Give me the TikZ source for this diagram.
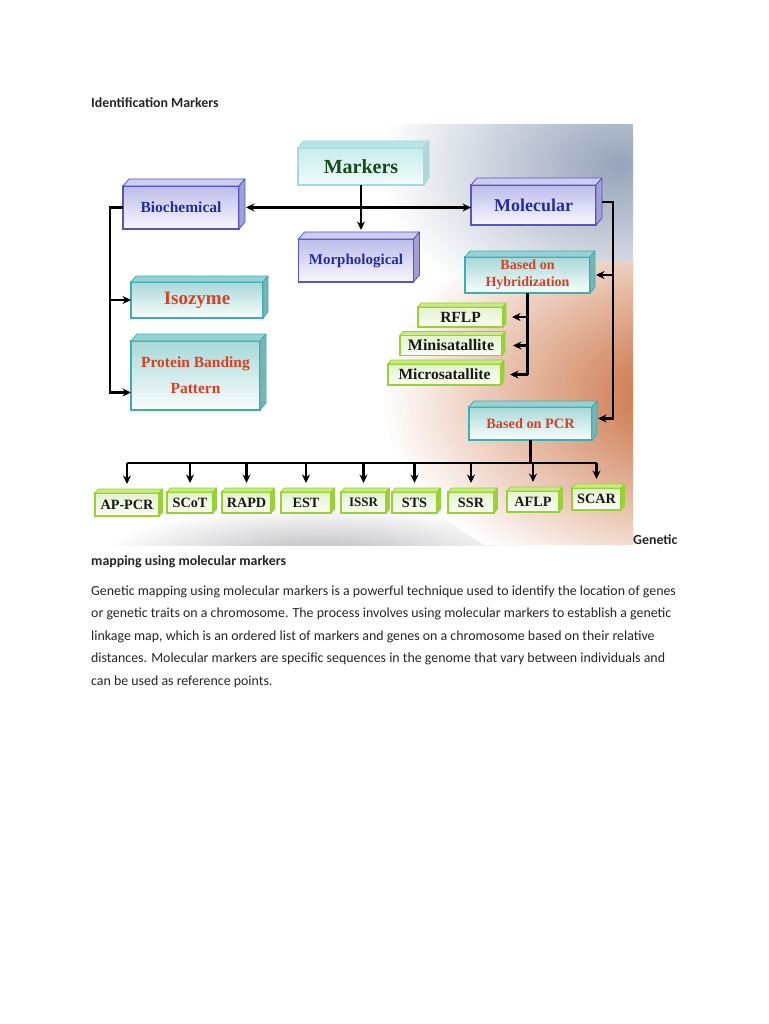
\documentclass[tikz,border=0pt]{standalone}
\usepackage{fontspec}
\setmainfont{Carlito}
\newfontfamily\tnr{Liberation Serif}
\usetikzlibrary{arrows.meta,calc}
\definecolor{purpB}{RGB}{85,85,195}
\definecolor{purpT}{RGB}{188,188,234}
\definecolor{purpBot}{RGB}{248,248,255}
\definecolor{purpTop}{RGB}{205,205,240}
\definecolor{purpSide}{RGB}{160,160,215}
\definecolor{purpText}{RGB}{35,45,160}
\definecolor{cyB}{RGB}{60,175,178}
\definecolor{cyT}{RGB}{168,216,216}
\definecolor{cyBot}{RGB}{250,253,253}
\definecolor{cyTop}{RGB}{150,210,210}
\definecolor{cySide}{RGB}{120,180,182}
\definecolor{cyText}{RGB}{215,65,35}
\definecolor{mkB}{RGB}{165,218,218}
\definecolor{mkT}{RGB}{200,236,236}
\definecolor{mkBot}{RGB}{242,251,251}
\definecolor{mkTop}{RGB}{185,228,228}
\definecolor{mkSide}{RGB}{175,215,215}
\definecolor{mkText}{RGB}{20,75,25}
\definecolor{grB}{RGB}{150,210,50}
\definecolor{grT}{RGB}{228,243,205}
\definecolor{grBot}{RGB}{250,253,245}
\definecolor{grTop}{RGB}{200,235,130}
\definecolor{grSide}{RGB}{155,208,60}
\definecolor{skin}{RGB}{198,100,50}
\definecolor{headblue}{RGB}{150,163,186}
\definecolor{bandgray}{RGB}{185,185,190}
\tikzset{
  box/.style={draw, line width=1.1pt, inner sep=0pt, outer sep=0pt, align=center},
  fs/.style={font=\tnr\bfseries\fontsize{#1}{17}\selectfont},
  purplebox/.style={box, draw=purpB, top color=purpT, bottom color=purpBot, text=purpText},
  cyanbox/.style={box, draw=cyB, top color=cyT, bottom color=cyBot, text=cyText},
  markbox/.style={box, draw=mkB, top color=mkT, bottom color=mkBot, text=mkText},
  greenbox/.style={box, draw=grB, top color=grT, bottom color=grBot, text=black!90},
  conn/.style={line width=2.2pt, draw=black},
  arr/.style={conn, -{Stealth[length=8.5pt,width=8pt]}},
  darr/.style={conn, {Stealth[length=8.5pt,width=8pt]}-{Stealth[length=8.5pt,width=8pt]}},
  body/.style={anchor=base west, inner sep=0pt, font=\fontsize{13.9}{16}\selectfont, text=black!85},
  bodyb/.style={body, font=\bfseries\fontsize{13.9}{16}\selectfont}
}
% #1 node, #2 dx, #3 dy, #4 top fill, #5 side fill, #6 border
\newcommand\cubefaces[6]{%
  \filldraw[draw=#6, fill=#4, line width=0.8pt, line join=round]
    (#1.north west) -- ++(#2,#3) -- ($(#1.north east)+(#2,#3)$) -- (#1.north east) -- cycle;
  \filldraw[draw=#6, fill=#5, line width=0.8pt, line join=round]
    (#1.north east) -- ++(#2,#3) -- ($(#1.south east)+(#2,#3)$) -- (#1.south east) -- cycle;
}
\begin{document}
\begin{tikzpicture}[x=1pt,y=-1pt]
\useasboundingbox (0,0) rectangle (768,1024);
\fill[white] (0,0) rectangle (768,1024);
% background picture
\begin{scope}
  \clip (88,125) rectangle (633,545);
  \shade[inner color=headblue, outer color=white] (618,165) ellipse [x radius=240, y radius=165];
  \shade[inner color=bandgray, outer color=white] (320,556) ellipse [x radius=220, y radius=50];
  \begin{scope}
    \clip (88,360) .. controls (380,300) and (470,270) .. (560,262) -- (633,262) -- (633,545) -- (88,545) -- cycle;
    \shade[inner color=skin, outer color=white] (690,395) ellipse [x radius=310, y radius=200];
  \end{scope}
\end{scope}

% main boxes
\node[markbox, fs=20, minimum width=126pt, minimum height=37pt] (markers) at (361,166.5) {Markers};
\cubefaces{markers}{5}{-7}{mkTop}{mkSide}{mkB}
\node[purplebox, fs=15.5, minimum width=116pt, minimum height=43pt] (bio) at (181,207.5) {Biochemical};
\cubefaces{bio}{6}{-7}{purpTop}{purpSide}{purpB}
\node[purplebox, fs=18, minimum width=125pt, minimum height=40pt] (mol) at (533.5,205) {Molecular};
\cubefaces{mol}{6}{-7}{purpTop}{purpSide}{purpB}
\node[purplebox, fs=15, minimum width=115pt, minimum height=43pt] (morph) at (356,260.5) {Morphological};
\cubefaces{morph}{6}{-7}{purpTop}{purpSide}{purpB}
\node[cyanbox, fs=19, minimum width=132pt, minimum height=36pt] (iso) at (197,300) {Isozyme};
\cubefaces{iso}{5}{-6}{cyTop}{cySide}{cyB}
\node[cyanbox, fs=15.5, minimum width=129pt, minimum height=69pt] (prot) at (195.5,375.5) {Protein Banding\\[9pt]Pattern};
\cubefaces{prot}{6}{-7}{cyTop}{cySide}{cyB}
\node[cyanbox, fs=14, minimum width=125pt, minimum height=36pt] (hyb) at (527.5,275) {Based on\\Hybridization};
\cubefaces{hyb}{5}{-6}{cyTop}{cySide}{cyB}
\node[cyanbox, fs=14.3, minimum width=123pt, minimum height=33pt] (pcr) at (530.5,423.5) {Based on PCR};
\cubefaces{pcr}{5}{-6}{cyTop}{cySide}{cyB}
\node[greenbox, fs=15.5, minimum width=85pt, minimum height=20pt] (rflp) at (460.5,317) {RFLP};
\cubefaces{rflp}{3}{-4}{grTop}{grSide}{grB}
\node[greenbox, fs=16, minimum width=102pt, minimum height=20pt] (mini) at (451,345.5) {Minisatallite};
\cubefaces{mini}{3}{-4}{grTop}{grSide}{grB}
\node[greenbox, fs=15.5, minimum width=113pt, minimum height=21pt] (micro) at (444.5,374.5) {Microsatallite};
\cubefaces{micro}{3}{-4}{grTop}{grSide}{grB}

% bottom row
\node[greenbox, fs=14.2, minimum width=64pt, minimum height=23pt] (b1) at (127,504.5) {AP-PCR};
\node[greenbox, fs=14.2, minimum width=46pt, minimum height=21pt] (b2) at (190,502.5) {SCoT};
\node[greenbox, fs=14.2, minimum width=49pt, minimum height=21pt] (b3) at (246.5,502.5) {RAPD};
\node[greenbox, fs=14.2, minimum width=50pt, minimum height=21pt] (b4) at (306,502.5) {EST};
\node[greenbox, fs=13, minimum width=45pt, minimum height=21pt] (b5) at (363.5,502.5) {ISSR};
\node[greenbox, fs=14.2, minimum width=45pt, minimum height=21pt] (b6) at (414.5,502.5) {STS};
\node[greenbox, fs=14.2, minimum width=46pt, minimum height=21pt] (b7) at (471,502.5) {SSR};
\node[greenbox, fs=14.2, minimum width=52pt, minimum height=21pt] (b8) at (533,501.5) {AFLP};
\node[greenbox, fs=14.2, minimum width=49pt, minimum height=22pt] (b9) at (596.5,499) {SCAR};
\foreach \b in {b1,b2,b3,b4,b5,b6,b7,b8,b9}{\cubefaces{\b}{3.5}{-4}{grTop}{grSide}{grB}}

% connectors
\draw[darr] ([xshift=7pt]bio.east) -- (bio.east -| mol.west);
\draw[arr] (markers.south) -- ([yshift=9pt]markers.south |- morph.north);
\coordinate (lx) at ([xshift=-21pt,yshift=-17pt]prot.west);
\draw[arr] (bio.west) -| (lx) -- ([yshift=-17pt]prot.west);
\draw[arr] (lx |- iso.west) -- (iso.west);
\coordinate (rx) at ([xshift=21pt,yshift=5pt]pcr.east);
\draw[arr] ([xshift=6pt,yshift=3pt]mol.east) -| (rx) -- ([xshift=6pt,yshift=5pt]pcr.east);
\draw[arr] (rx |- hyb.east) -- ([xshift=6pt]hyb.east);
\draw[conn] (hyb.south) -- (hyb.south |- micro.east);
\draw[arr] (hyb.south |- rflp.east) -- ([xshift=9pt]rflp.east);
\draw[arr] (hyb.south |- mini.east) -- ([xshift=11pt]mini.east);
\draw[arr] (hyb.south |- micro.east) -- ([xshift=9pt]micro.east);
\coordinate (hl) at ($(pcr.south)+(0,23)$);
\draw[conn] (pcr.south) -- (pcr.south |- hl);
\draw[conn] (b1.north |- hl) -- (b9.north |- hl);
\foreach \b in {b1,b2,b3,b4,b5,b6,b7,b8,b9}{\draw[arr] (\b.north |- hl) -- ([yshift=9pt]\b.north);}

% page text
\node[bodyb] (t0) at (91,108) {Identification Markers};
\node[bodyb] (t1) at (633,544) {Genetic};
\node[bodyb] (t2) at (91,565) {mapping using molecular markers};
\node[body] (p1) at (91,595) {Genetic mapping using molecular markers is a powerful technique used to identify the location of genes};
\node[body] (p2) at (91,617.5) {or genetic traits on a chromosome. The process involves using molecular markers to establish a genetic};
\node[body] (p3) at (91,640) {linkage map, which is an ordered list of markers and genes on a chromosome based on their relative};
\node[body] (p4) at (91,662.5) {distances. Molecular markers are specific sequences in the genome that vary between individuals and};
\node[body] (p5) at (91,685) {can be used as reference points.};
\end{tikzpicture}
\end{document}
